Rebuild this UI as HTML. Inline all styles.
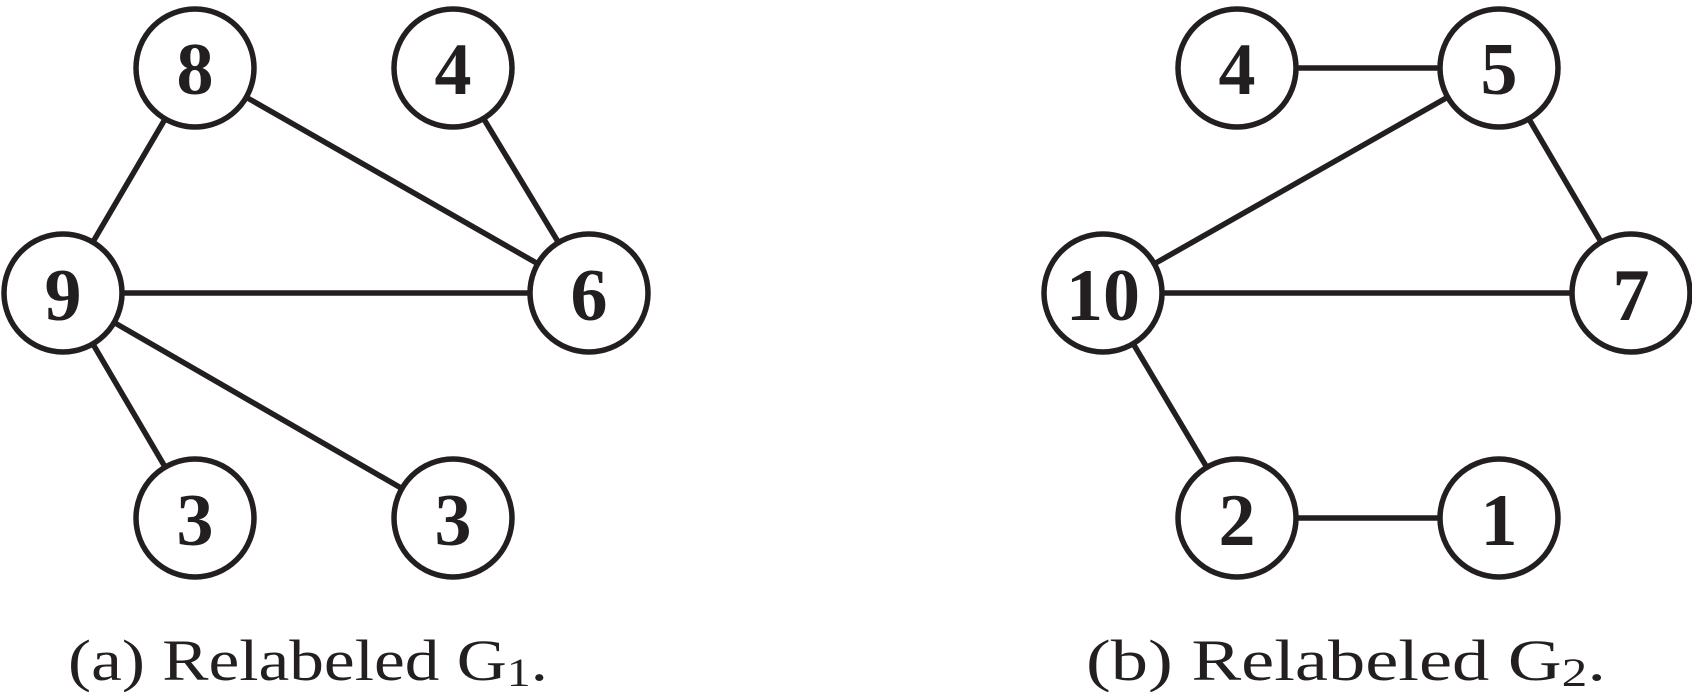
<!DOCTYPE html>
<html><head><meta charset="utf-8"><style>
html,body{margin:0;padding:0;background:#fff;}
svg{display:block;}
</style></head><body>
<svg width="1692" height="692" viewBox="0 0 1692 692" xmlns="http://www.w3.org/2000/svg">
<g stroke="#231f20" stroke-width="5.5" fill="none">
<line x1="195" y1="68" x2="63" y2="293"/>
<line x1="195" y1="68" x2="589" y2="293"/>
<line x1="453" y1="68" x2="589" y2="293"/>
<line x1="63" y1="293" x2="589" y2="293"/>
<line x1="63" y1="293" x2="195" y2="518"/>
<line x1="63" y1="293" x2="453" y2="518"/>
<line x1="1237" y1="68" x2="1499" y2="68"/>
<line x1="1499" y1="68" x2="1103" y2="293"/>
<line x1="1499" y1="68" x2="1631" y2="293"/>
<line x1="1103" y1="293" x2="1631" y2="293"/>
<line x1="1103" y1="293" x2="1237" y2="518"/>
<line x1="1237" y1="518" x2="1499" y2="518"/>
</g>
<g stroke="#231f20" stroke-width="5.5" fill="#fff">
<circle cx="195" cy="68" r="59"/>
<circle cx="453" cy="68" r="59"/>
<circle cx="63" cy="293" r="59"/>
<circle cx="589" cy="293" r="59"/>
<circle cx="195" cy="518" r="59"/>
<circle cx="453" cy="518" r="59"/>
<circle cx="1237" cy="68" r="59"/>
<circle cx="1499" cy="68" r="59"/>
<circle cx="1103" cy="293" r="59"/>
<circle cx="1631" cy="293" r="59"/>
<circle cx="1237" cy="518" r="59"/>
<circle cx="1499" cy="518" r="59"/>
</g>
<g font-family="Liberation Serif, serif" font-weight="bold" font-size="74" fill="#231f20" text-anchor="middle">
<text x="195" y="94">8</text>
<text x="453" y="94">4</text>
<text x="63" y="320">9</text>
<text x="589" y="320">6</text>
<text x="195" y="545">3</text>
<text x="453" y="545">3</text>
<text x="1237" y="94">4</text>
<text x="1499" y="94">5</text>
<text x="1103" y="320">10</text>
<text x="1631" y="320">7</text>
<text x="1237" y="545">2</text>
<text x="1499" y="545">1</text>
</g>
<g font-family="Liberation Serif, serif" font-size="58" fill="#231f20">
<text x="68" y="680" textLength="480" lengthAdjust="spacingAndGlyphs">(a) Relabeled G<tspan font-size="40" dy="6">1</tspan><tspan dy="-6">.</tspan></text>
<text x="1086" y="680" textLength="520" lengthAdjust="spacingAndGlyphs">(b) Relabeled G<tspan font-size="40" dy="6">2</tspan><tspan dy="-6">.</tspan></text>
</g>
</svg>
</body></html>
